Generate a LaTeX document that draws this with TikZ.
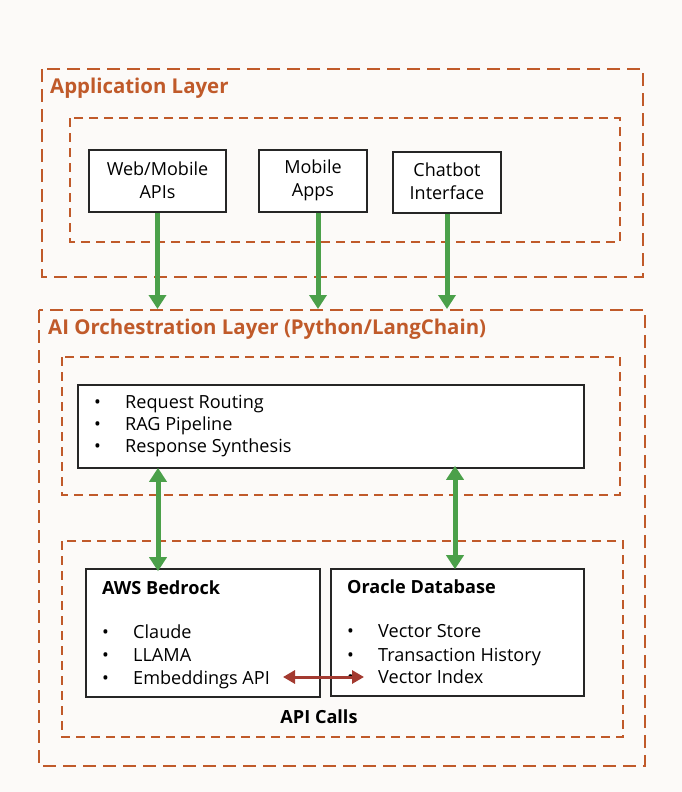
\documentclass[tikz,border=0pt]{standalone}
\usepackage{fontspec}
\setmainfont{Open Sans}
\usetikzlibrary{arrows.meta}
\definecolor{rust}{HTML}{C05A2A}
\definecolor{flowgreen}{HTML}{4BA04A}
\definecolor{apired}{HTML}{A33A30}
\definecolor{bgcol}{HTML}{FCFAF8}
\tikzset{
  outerbox/.style={draw=rust, line width=2pt, dash pattern=on 13pt off 7pt},
  innerbox/.style={draw=rust, line width=1.8pt, dash pattern=on 9pt off 6pt},
  solidbox/.style={draw=black!85, line width=1.6pt, fill=white, inner sep=0pt},
  apptext/.style={font=\fontsize{18}{23}\selectfont, align=center},
  title/.style={font=\fontsize{20.4}{24}\selectfont\bfseries, text=rust, anchor=base west, inner sep=0pt},
  body/.style={font=\fontsize{18.1}{22}\selectfont, anchor=base west, inner sep=0pt},
  bodybold/.style={font=\fontsize{18.1}{22}\selectfont\bfseries, anchor=base west, inner sep=0pt},
  greenarrow/.style={draw=flowgreen, line width=5pt, -{Triangle[width=17pt,length=14pt]}},
  greendouble/.style={draw=flowgreen, line width=5pt, {Triangle[width=17pt,length=14pt]}-{Triangle[width=17pt,length=14pt]}},
  redarrow/.style={draw=apired, line width=3pt, {Triangle[width=13pt,length=12pt]}-{Triangle[width=13pt,length=12pt]}},
}
\begin{document}
\begin{tikzpicture}[x=1pt,y=-1pt]
\fill[bgcol] (0,0) rectangle (682,792);
\useasboundingbox (0,0) rectangle (682,792);

% Application layer
\draw[outerbox] (42,69) rectangle (643,277);
\node[title] (apptitle) at (50,93) {Application Layer};
\draw[innerbox] (70,118) rectangle (620,242);
\node[solidbox, minimum width=137pt, minimum height=62pt] (web) at (157.5,181) {};
\node[apptext] (webtext) at (157.5,180) {Web/Mobile\\APIs};
\node[solidbox, minimum width=108pt, minimum height=62pt] (mob) at (313,181) {};
\node[apptext] (mobtext) at (313,180) {Mobile\\Apps};
\node[solidbox, minimum width=108pt, minimum height=61pt] (chat) at (447,182.5) {};
\node[apptext] (chattext) at (447,181.5) {Chatbot\\Interface};

% AI orchestration layer
\draw[outerbox] (39,310) rectangle (645,766);
\coordinate (aitop) at (0,309);
\node[title] (aititle) at (48,334) {AI Orchestration Layer (Python/LangChain)};
\draw[innerbox] (62,357) rectangle (620,495);
\node[solidbox, minimum width=506pt, minimum height=83pt] (req) at (331,426.5) {};
\node[body] (b1) at (94,408) {•};
\node[body] (t1) at (125,408) {Request Routing};
\node[body] (b2) at (94,430) {•};
\node[body] (t2) at (125,430) {RAG Pipeline};
\node[body] (b3) at (94,452) {•};
\node[body] (t3) at (125,452) {Response Synthesis};

\draw[innerbox] (62,541) rectangle (623,737);
\node[solidbox, minimum width=234pt, minimum height=128pt] (aws) at (203,633) {};
\node[bodybold] (awstitle) at (102,594) {AWS Bedrock};
\node[body] (ab1) at (102,638) {•};
\node[body] (at1) at (133,638) {Claude};
\node[body] (ab2) at (102,661) {•};
\node[body] (at2) at (133,661) {LLAMA};
\node[body] (ab3) at (102,684) {•};
\node[body] (at3) at (133,684) {Embeddings API};

\node[solidbox, minimum width=253pt, minimum height=127pt] (ora) at (457.5,632.5) {};
\node[bodybold] (oratitle) at (347,593) {Oracle Database};
\node[body] (ob1) at (347,637) {•};
\node[body] (ot1) at (378,637) {Vector Store};
\node[body] (ob2) at (347,661) {•};
\node[body] (ot2) at (378,661) {Transaction History};
\node[body] (ob3) at (347,683) {•};
\node[body] (ot3) at (378,683) {Vector Index};

\node[bodybold, anchor=base] (apicalls) at (319,723) {API Calls};

% connectors
\coordinate (mobx) at (318,0);
\draw[greenarrow] (web.south) -- (web.south |- aitop);
\draw[greenarrow] (mobx |- mob.south) -- (mobx |- aitop);
\draw[greenarrow] (chat.south) -- (chat.south |- aitop);

\coordinate (lx) at (158,0);
\coordinate (rx) at (455,0);
\draw[greendouble] ([yshift=1pt]lx |- req.south) -- ([yshift=-3pt]lx |- aws.north);
\draw[greendouble] ([yshift=3pt]rx |- req.south) -- ([yshift=-1pt]rx |- ora.north);

\coordinate (redl) at (283,677);
\coordinate (redr) at (364,677);
\draw[redarrow] (redl) -- (redr);
\end{tikzpicture}
\end{document}
